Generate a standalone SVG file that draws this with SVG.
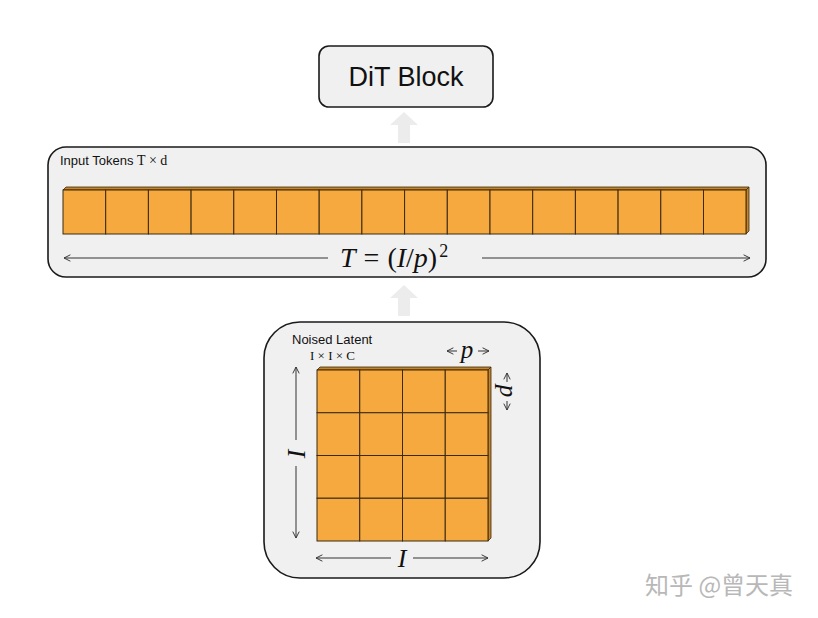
<svg xmlns="http://www.w3.org/2000/svg" width="818" height="618" viewBox="0 0 818 618">
<defs>
<style>
.box{fill:#f0f0f0;stroke:#1a1a1a;stroke-width:1.6}
.cell{fill:#f5a93e;stroke:#3a2a10;stroke-width:1}
.side{fill:#c98420;stroke:#3a2a10;stroke-width:0.8}
.dim{stroke:#333;stroke-width:1;fill:none}
.sans{font-family:"Liberation Sans",Arial,sans-serif;fill:#111}
.serif{font-family:"Liberation Serif","Times New Roman",serif;fill:#111}
.math{font-family:"Liberation Serif","Times New Roman",serif;font-style:italic;fill:#111}
.blk{fill:#ececec}
</style>
<marker id="ah" viewBox="0 0 10 10" refX="9" refY="5" markerWidth="8" markerHeight="8" orient="auto-start-reverse" markerUnits="userSpaceOnUse">
<path d="M1,1 L9,5 L1,9" fill="none" stroke="#333" stroke-width="1.2"/>
</marker>
</defs>
<rect width="818" height="618" fill="#ffffff"/>

<g id="connectors">
<path class="blk" d="M398,143 L410,143 L410,125 L418,125 L404,112 L390,125 L398,125 Z"/>
<path class="blk" d="M398,316 L410,316 L410,298 L418,298 L404,285 L390,298 L398,298 Z"/>
</g>

<g id="dit-block">
<rect class="box" x="319" y="46" width="174" height="61" rx="10"/>
<text class="sans" x="406" y="86" font-size="27" text-anchor="middle">DiT Block</text>
</g>

<g id="input-tokens">
<rect class="box" x="48" y="147" width="718" height="130" rx="18"/>
<text class="sans" x="60" y="165" font-size="13">Input Tokens <tspan class="serif" font-size="14">T × d</tspan></text>
<path class="side" d="M63,190 L66,187 L749,187 L746,190 Z"/>
<path class="side" d="M746,190 L749,187 L749,231 L746,234 Z"/>
<g id="tokens">
<rect class="cell" x="63" y="190" width="42.7" height="44"/>
<rect class="cell" x="105.7" y="190" width="42.7" height="44"/>
<rect class="cell" x="148.4" y="190" width="42.7" height="44"/>
<rect class="cell" x="191.1" y="190" width="42.7" height="44"/>
<rect class="cell" x="233.8" y="190" width="42.7" height="44"/>
<rect class="cell" x="276.5" y="190" width="42.7" height="44"/>
<rect class="cell" x="319.2" y="190" width="42.7" height="44"/>
<rect class="cell" x="361.9" y="190" width="42.7" height="44"/>
<rect class="cell" x="404.6" y="190" width="42.7" height="44"/>
<rect class="cell" x="447.3" y="190" width="42.7" height="44"/>
<rect class="cell" x="490" y="190" width="42.7" height="44"/>
<rect class="cell" x="532.7" y="190" width="42.7" height="44"/>
<rect class="cell" x="575.4" y="190" width="42.7" height="44"/>
<rect class="cell" x="618.1" y="190" width="42.7" height="44"/>
<rect class="cell" x="660.8" y="190" width="42.7" height="44"/>
<rect class="cell" x="703.5" y="190" width="42.5" height="44"/>
</g>
<line class="dim" x1="64" y1="258" x2="328" y2="258" marker-start="url(#ah)"/>
<line class="dim" x1="482" y1="258" x2="750" y2="258" marker-end="url(#ah)"/>
<text class="math" x="340" y="267" font-size="28">T<tspan font-style="normal" dx="8">=</tspan><tspan font-style="normal" dx="8">(</tspan>I<tspan font-style="normal">/</tspan>p<tspan font-style="normal">)</tspan><tspan font-style="normal" font-size="18" dy="-10" dx="2">2</tspan></text>
</g>

<g id="noised-latent">
<rect class="box" x="264" y="322" width="276" height="256" rx="36"/>
<text class="sans" x="292" y="344" font-size="13">Noised Latent</text>
<text class="serif" x="310" y="360" font-size="13">I × I × C</text>
<path class="side" d="M317,370 L320,367 L491,367 L488,370 Z"/>
<path class="side" d="M488,370 L491,367 L491,538 L488,541 Z"/>
<g id="grid">
<rect class="cell" x="317" y="370" width="42.75" height="42.75"/>
<rect class="cell" x="359.75" y="370" width="42.75" height="42.75"/>
<rect class="cell" x="402.5" y="370" width="42.75" height="42.75"/>
<rect class="cell" x="445.25" y="370" width="42.75" height="42.75"/>
<rect class="cell" x="317" y="412.75" width="42.75" height="42.75"/>
<rect class="cell" x="359.75" y="412.75" width="42.75" height="42.75"/>
<rect class="cell" x="402.5" y="412.75" width="42.75" height="42.75"/>
<rect class="cell" x="445.25" y="412.75" width="42.75" height="42.75"/>
<rect class="cell" x="317" y="455.5" width="42.75" height="42.75"/>
<rect class="cell" x="359.75" y="455.5" width="42.75" height="42.75"/>
<rect class="cell" x="402.5" y="455.5" width="42.75" height="42.75"/>
<rect class="cell" x="445.25" y="455.5" width="42.75" height="42.75"/>
<rect class="cell" x="317" y="498.25" width="42.75" height="42.75"/>
<rect class="cell" x="359.75" y="498.25" width="42.75" height="42.75"/>
<rect class="cell" x="402.5" y="498.25" width="42.75" height="42.75"/>
<rect class="cell" x="445.25" y="498.25" width="42.75" height="42.75"/>
</g>
<line class="dim" x1="296" y1="367" x2="296" y2="440" marker-start="url(#ah)"/>
<line class="dim" x1="296" y1="466" x2="296" y2="538" marker-end="url(#ah)"/>
<text class="math" font-size="26" text-anchor="middle" transform="translate(288,453) rotate(90)">I</text>
<line class="dim" x1="316" y1="558" x2="391" y2="558" marker-start="url(#ah)"/>
<line class="dim" x1="413" y1="558" x2="488" y2="558" marker-end="url(#ah)"/>
<text class="math" x="402" y="567" font-size="26" text-anchor="middle">I</text>
<line class="dim" x1="447" y1="351" x2="457" y2="351" marker-start="url(#ah)"/>
<line class="dim" x1="478" y1="351" x2="489" y2="351" marker-end="url(#ah)"/>
<text class="math" x="467" y="358" font-size="25" text-anchor="middle">p</text>
<line class="dim" x1="507" y1="373" x2="507" y2="382" marker-start="url(#ah)"/>
<line class="dim" x1="507" y1="401" x2="507" y2="410" marker-end="url(#ah)"/>
<text class="math" font-size="25" text-anchor="middle" transform="translate(500,391) rotate(90)">p</text>
</g>

<text x="645" y="594" font-size="24" font-family="'Noto Sans CJK SC',sans-serif" fill="#b8b8b8">知乎 @曾天真</text>
</svg>
